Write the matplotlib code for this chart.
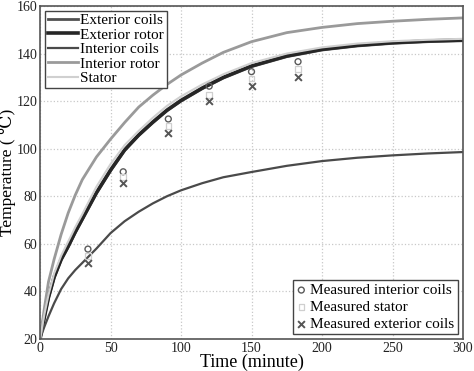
import matplotlib
matplotlib.use("Agg")
import matplotlib.pyplot as plt
import numpy as np

plt.rcParams["font.family"] = ["Liberation Serif", "DejaVu Serif"]

# simulated curves
t_sim = [0, 3, 6, 10, 15, 20, 25, 30, 40, 50, 60, 70, 80, 90, 100, 115, 130, 150, 175, 200, 225, 250, 275, 300]
interior_rotor = [20, 32.5, 44, 53.5, 64, 73, 80.5, 87, 96.5, 104, 111, 117.5, 122.5, 127, 131, 136, 140.5, 145, 148.8, 151, 152.6, 153.6, 154.4, 155]
stator = [20, 30, 38.5, 47.5, 55, 61, 67, 72.5, 84, 93.5, 101.5, 107.5, 113, 118, 122, 127, 131.3, 136, 140, 142.6, 144.2, 145.2, 145.8, 146.2]
exterior_rotor = [20, 29, 37.5, 46, 53.5, 59, 65, 70.5, 81.5, 91, 99.5, 105.8, 111.2, 116.2, 120.3, 125.5, 130, 134.8, 139, 141.8, 143.5, 144.6, 145.3, 145.7]
exterior_coils = [20, 28.8, 37.2, 45.7, 53.2, 58.7, 64.7, 70.2, 81.2, 90.7, 99.2, 105.5, 110.9, 115.9, 120, 125.2, 129.7, 134.5, 138.7, 141.5, 143.2, 144.3, 145, 145.4]
interior_coils = [20, 25, 29.5, 35, 41, 45.5, 49, 52, 58, 64.5, 69.5, 73.5, 77, 80, 82.5, 85.5, 88, 90.2, 92.8, 94.8, 96.2, 97.2, 98, 98.6]

# measurements
t_meas = [34, 59, 91, 120, 150, 183]
meas_interior_coils = [57.8, 90.3, 112.5, 126.3, 132.4, 136.6]
meas_stator = [55, 88, 109.5, 122.6, 129.6, 133.5]
meas_exterior_coils = [52, 85.4, 106.6, 119.9, 126.3, 130.3]

fig = plt.figure(figsize=(4.74, 3.71), dpi=100)
ax = fig.add_axes([0.0844, 0.0863, 0.8924, 0.8975])

h1, = ax.plot(t_sim, exterior_coils, color="#505050", lw=2.0, label="Exterior coils")
h2, = ax.plot(t_sim, exterior_rotor, color="#262626", lw=2.6, label="Exterior rotor")
h3, = ax.plot(t_sim, interior_coils, color="#4a4a4a", lw=1.6, label="Interior coils")
h4, = ax.plot(t_sim, interior_rotor, color="#9a9a9a", lw=2.0, label="Interior rotor")
h5, = ax.plot(t_sim, stator, color="#d0d0d0", lw=1.5, label="Stator")

m1 = ax.scatter(t_meas, meas_interior_coils, marker="o", s=18, facecolors="none",
                edgecolors="#5a5a5a", linewidths=1.0, label="Measured interior coils", zorder=4)
m2 = ax.scatter(t_meas, meas_stator, marker="s", s=16, facecolors="none",
                edgecolors="#cfcfcf", linewidths=0.9, label="Measured stator", zorder=4)
m3 = ax.scatter(t_meas, meas_exterior_coils, marker="x", s=24, color="#555555",
                linewidths=1.4, label="Measured exterior coils", zorder=4)

ax.set_xlim(0, 300)
ax.set_ylim(20, 160)
ax.set_xticks(np.arange(0, 301, 50))
ax.set_yticks(np.arange(20, 161, 20))
ax.grid(True, color="#c8c8c8", linestyle=":", linewidth=0.9)
ax.tick_params(direction="in", length=0, labelsize=10, pad=2, colors="#222222")
for s in ax.spines.values():
    s.set_color("#555555")
    s.set_linewidth(1.2)

ax.set_xlabel("Time (minute)", fontsize=13, labelpad=-1)
ax.set_ylabel("Temperature ( \u2103)", fontsize=12.5)
ax.yaxis.set_label_coords(-0.057, 0.5)

leg1 = ax.legend(handles=[h1, h2, h3, h4, h5], loc="upper left", fontsize=11,
                 handlelength=2.0, handletextpad=0.15, labelspacing=0.05,
                 borderpad=0.2, borderaxespad=0.3, fancybox=False, framealpha=1,
                 edgecolor="#444444")
leg1.get_frame().set_linewidth(1.0)
ax.add_artist(leg1)
leg2 = ax.legend(handles=[m1, m2, m3], loc="lower right", fontsize=11,
                 handlelength=0.6, handletextpad=0.3, labelspacing=0.2,
                 borderpad=0.25, borderaxespad=0.3, fancybox=False, framealpha=1,
                 edgecolor="#444444")
leg2.get_frame().set_linewidth(1.0)

fig.savefig("out.png", dpi=100)
